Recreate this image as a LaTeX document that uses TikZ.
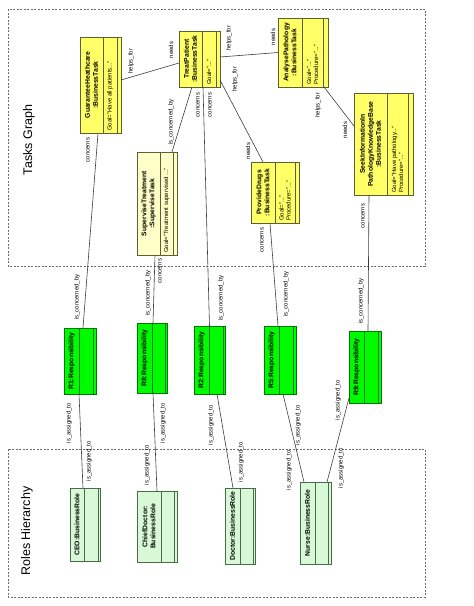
\documentclass[tikz,border=0pt]{standalone}
\usepackage{fontspec}
\setmainfont{Liberation Sans}

\definecolor{taskfill}{RGB}{255,255,102}
\definecolor{stfill}{RGB}{255,255,200}
\definecolor{taskline}{RGB}{95,95,55}
\definecolor{respfill}{RGB}{0,250,0}
\definecolor{respline}{RGB}{0,120,0}
\definecolor{rolefill}{RGB}{216,248,216}
\definecolor{roleline}{RGB}{70,110,70}
\definecolor{framegray}{RGB}{110,110,110}
\definecolor{linkgray}{RGB}{60,60,60}

\begin{document}
\begin{tikzpicture}[x=1pt, y=-1pt,
  frame/.style={draw=framegray, dash pattern=on 2pt off 1.5pt, line width=0.5pt},
  grouptitle/.style={rotate=90, font=\fontsize{12.5}{14}\selectfont},
  task/.style={draw=taskline, fill=taskfill, line width=0.5pt, inner sep=0pt, outer sep=0pt},
  supertask/.style={task, fill=stfill},
  resp/.style={draw=respline, fill=respfill, line width=0.6pt, inner sep=0pt, outer sep=0pt},
  role/.style={draw=roleline, fill=rolefill, line width=0.5pt, inner sep=0pt, outer sep=0pt},
  objname/.style={rotate=90, align=center, font=\bfseries\fontsize{6.8}{8}\selectfont, inner sep=0pt},
  attr/.style={rotate=90, anchor=west, align=left, font=\fontsize{6}{7}\selectfont, inner sep=0pt},
  lab/.style={rotate=90, font=\fontsize{6}{7}\selectfont, inner sep=0pt},
  link/.style={draw=linkgray, line width=0.6pt}
]
\useasboundingbox (0,0) rectangle (474,606);

% groups
\draw[frame] (8,9) rectangle (425,266);
\draw[frame] (8,449) rectangle (425,597);
\node[grouptitle] (tasks-title) at (29,140) {Tasks Graph};
\node[grouptitle] (roles-title) at (27,531) {Roles Hierarchy};

% tasks
\node[task, minimum width=41pt, minimum height=96pt] (gh) at (100.5,85) {};
\node[task, minimum width=41pt, minimum height=56pt] (tp) at (199.5,59) {};
\node[task, minimum width=50pt, minimum height=69pt] (ap) at (303,52.5) {};
\node[task, minimum width=59pt, minimum height=102pt] (si) at (383.5,144) {};
\node[task, minimum width=48pt, minimum height=61pt] (pd) at (275,192.5) {};
\node[supertask, minimum width=40pt, minimum height=103pt] (st) at (157,203.5) {};
\foreach \n/\a/\b/\h in {gh/23/37/96, tp/23/37/56, ap/24/45/69, si/33/54/102, pd/24/44/61, st/23/36/103}
  \draw[taskline, line width=0.5pt] (\n.north west) ++(\a,0) -- ++(0,\h) (\n.north west) ++(\b,0) -- ++(0,\h);

\node[objname] (gh-name) at (91.5,85) {GuaranteeHeathcare\\:BusinessTask};
\node[objname] (tp-name) at (190.5,59) {TreatPatient\\:BusinessTask};
\node[objname] (ap-name) at (290,52.5) {AnalysePathology\\:BusinessTask};
\node[objname] (si-name) at (370.5,144) {SeekInformationIn\\PathologyKnowledgeBase\\:BusinessTask};
\node[objname] (pd-name) at (263,192.5) {ProvideDrugs\\:BusinessTask};
\node[objname] (st-name) at (148.5,203.5) {SuperviseTreatment\\:SuperviseTask};
\node[attr] (gh-attr) at (110,131) {Goal="Have all patients..."};
\node[attr] (tp-attr) at (209,85) {Goal="..."};
\node[attr] (ap-attr) at (312.5,85) {Goal="..."\\Procedure="..."};
\node[attr] (si-attr) at (397.5,193) {Goal="Have pathology..."\\Procedure="..."};
\node[attr] (pd-attr) at (285,221) {Goal="..."\\Procedure="..."};
\node[attr] (st-attr) at (166.5,253) {Goal="Treatment supervised ..."};

% responsibilities
\node[resp, minimum width=32pt, minimum height=66pt] (r1) at (80,361) {};
\node[resp, minimum width=30pt, minimum height=70pt] (r8) at (152,358) {};
\node[resp, minimum width=31pt, minimum height=68pt] (r2) at (209.5,360) {};
\node[resp, minimum width=32pt, minimum height=68pt] (r5) at (280,360) {};
\node[resp, minimum width=32pt, minimum height=72pt] (r9) at (365,367) {};
\foreach \n/\a/\b/\h in {r1/15/29/66, r8/15/28/70, r2/15/29/68, r5/15/29/68, r9/15/29/72}
  \draw[respline, line width=0.6pt] (\n.north west) ++(\a,0) -- ++(0,\h) (\n.north west) ++(\b,0) -- ++(0,\h);
\node[objname] (r1-name) at (71.5,361) {R1:Responsibility};
\node[objname] (r8-name) at (144.5,358) {R8:Responsibility};
\node[objname] (r2-name) at (201.5,360) {R2:Responsibility};
\node[objname] (r5-name) at (271.5,360) {R5:Responsibility};
\node[objname] (r9-name) at (356.5,367) {R9:Responsibility};

% roles
\node[role, minimum width=30pt, minimum height=73pt] (ceo) at (85,524.5) {};
\node[role, minimum width=40pt, minimum height=71pt] (chief) at (157,526.5) {};
\node[role, minimum width=30pt, minimum height=76pt] (doctor) at (240,526) {};
\node[role, minimum width=31pt, minimum height=82pt] (nurse) at (315.5,523) {};
\foreach \n/\a/\b/\h in {ceo/14/28/73, chief/24/37/71, doctor/15/28/76, nurse/15/28/82}
  \draw[roleline, line width=0.5pt] (\n.north west) ++(\a,0) -- ++(0,\h) (\n.north west) ++(\b,0) -- ++(0,\h);
\node[objname] (ceo-name) at (77,524.5) {CEO:BusinessRole};
\node[objname] (chief-name) at (149,526.5) {ChiefDoctor:\\BusinessRole};
\node[objname] (doctor-name) at (232.5,526) {Doctor:BusinessRole};
\node[objname] (nurse-name) at (307.5,523) {Nurse:BusinessRole};

% links between tasks
\draw[link] ([yshift=5pt]gh.east) -- ([yshift=-4pt]tp.west);
\draw[link] ([yshift=2pt]tp.east) -- (ap.west);
\draw[link] ([yshift=-21pt]tp.east) -- ([xshift=-12pt]pd.north);
\draw[link] ([xshift=-4pt]ap.south east) -- ([yshift=18pt]si.west);
\draw[link] ([xshift=-7.5pt]tp.south) -- ([xshift=15pt]st.north);
\node[lab] (gh-helps) at (131,61) {helps\_for};
\node[lab] (tp-needs) at (171,50) {needs};
\node[lab] (tp-helps1) at (229,38) {helps\_for};
\node[lab] (ap-needs) at (273,37) {needs};
\node[lab] (tp-helps2) at (235,79) {helps\_for};
\node[lab] (pd-needs) at (248,151) {needs};
\node[lab] (ap-helps) at (318,105) {helps\_for};
\node[lab] (si-needs) at (345,130) {needs};
\node[lab] (st-concby) at (171,122) {is\_concerned\_by};

% tasks to responsibilities
\draw[link] ([xshift=3.5pt]tp.south) -- (r2.north);
\draw[link] ([xshift=-2.5pt]gh.south) -- ([xshift=3pt]r1.north);
\draw[link] ([xshift=-2pt]st.south) -- ([xshift=1pt]r8.north);
\draw[link] ([xshift=-5pt]pd.south) -- ([xshift=-2pt]r5.north);
\draw[link] ([xshift=-14.5pt]si.south) -- ([xshift=3pt]r9.north);
\node[lab] (tp-conc1) at (198,105) {concerns};
\node[lab] (tp-conc2) at (210,105) {concerns};
\node[lab] (r2-concby) at (221,298) {is\_concerned\_by};
\node[lab] (gh-conc) at (88,150) {concerns};
\node[lab] (r1-concby) at (77,297) {is\_concerned\_by};
\node[lab] (st-conc) at (160,271) {concerns};
\node[lab] (r8-concby) at (148,293) {is\_concerned\_by};
\node[lab] (pd-conc) at (262,240) {concerns};
\node[lab] (r5-concby) at (286,294) {is\_concerned\_by};
\node[lab] (si-conc) at (363,216) {concerns};
\node[lab] (r9-concby) at (361,301) {is\_concerned\_by};

% responsibilities to roles
\draw[link] ([xshift=-1pt]r1.south) -- ([xshift=-2pt]ceo.north);
\draw[link] ([xshift=1pt]r8.south) -- (chief.north);
\draw[link] ([xshift=7.5pt]r2.south) -- ([xshift=-7pt]doctor.north);
\draw[link] ([xshift=3pt]r5.south) -- ([xshift=-11.5pt]nurse.north);
\draw[link] ([yshift=5pt]r9.south west) -- ([xshift=11.5pt]nurse.north);
\node[lab] (r1-assig) at (69,423) {is\_assigned\_to};
\node[lab] (ceo-assig) at (89,461) {is\_assigned\_to};
\node[lab] (r8-assig) at (163,423) {is\_assigned\_to};
\node[lab] (chief-assig) at (147,465) {is\_assigned\_to};
\node[lab] (r2-assig) at (211,425) {is\_assigned\_to};
\node[lab] (doctor-assig) at (241,462) {is\_assigned\_to};
\node[lab] (r5-assig) at (298,425) {is\_assigned\_to};
\node[lab] (nurse-assig1) at (289,470) {is\_assigned\_to};
\node[lab] (r9-assig) at (338,400) {is\_assigned\_to};
\node[lab] (nurse-assig2) at (341,468) {is\_assigned\_to};
\end{tikzpicture}
\end{document}
